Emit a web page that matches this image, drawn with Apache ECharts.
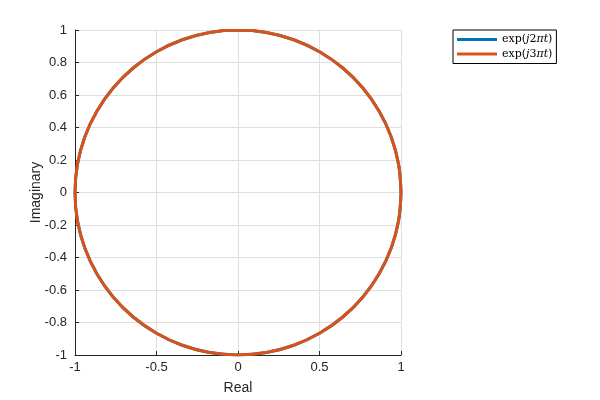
<!DOCTYPE html>
<html>
<head>
<meta charset="utf-8">
<script src="https://cdn.jsdelivr.net/npm/echarts@6/dist/echarts.min.js"></script>
<style>html,body{margin:0;padding:0;background:#fff;}#c{width:600px;height:400px;}</style>
</head>
<body>
<div id="c"></div>
<script>
// Points read along the circle (every 10 degrees)
var realVals = [1, 0.985, 0.940, 0.866, 0.766, 0.643, 0.5, 0.342, 0.174, 0, -0.174, -0.342, -0.5, -0.643, -0.766, -0.866, -0.940, -0.985, -1, -0.985, -0.940, -0.866, -0.766, -0.643, -0.5, -0.342, -0.174, 0, 0.174, 0.342, 0.5, 0.643, 0.766, 0.866, 0.940, 0.985, 1];
var imagVals = [0, 0.174, 0.342, 0.5, 0.643, 0.766, 0.866, 0.940, 0.985, 1, 0.985, 0.940, 0.866, 0.766, 0.643, 0.5, 0.342, 0.174, 0, -0.174, -0.342, -0.5, -0.643, -0.766, -0.866, -0.940, -0.985, -1, -0.985, -0.940, -0.866, -0.766, -0.643, -0.5, -0.342, -0.174, 0];
var seriesNames = ['exp(j2πt)', 'exp(j3πt)'];
var seriesColors = ['#0072BD', '#D95319'];
var xTicks = [-1, -0.5, 0, 0.5, 1];
var yTicks = [-1, -0.8, -0.6, -0.4, -0.2, 0, 0.2, 0.4, 0.6, 0.8, 1];

var pts = realVals.map(function (r, i) { return [r, imagVals[i]]; });
var labelFmt = function (v) { return String(Math.round(v * 10) / 10); };

var chart = echarts.init(document.getElementById('c'));
chart.setOption({
  animation: false,
  backgroundColor: '#fff',
  grid: { left: 75, right: 199, top: 30, bottom: 45 },
  legend: {
    orient: 'vertical',
    left: 453, top: 30,
    borderColor: '#000', borderWidth: 1, borderRadius: 0,
    padding: [4, 4, 4, 4],
    itemWidth: 40, itemHeight: 3, itemGap: 3.5,
    icon: 'rect',
    data: seriesNames,
    formatter: function (name) {
      var d = name.charAt(5);
      return '{n|exp(}{i|j}{n|' + d + '}{i|πt}{n|)}';
    },
    textStyle: {
      rich: {
        n: { fontFamily: 'DejaVu Serif', fontSize: 11, color: '#000' },
        i: { fontFamily: 'DejaVu Serif', fontStyle: 'italic', fontSize: 11, color: '#000' }
      }
    }
  },
  xAxis: {
    type: 'value', min: -1, max: 1, interval: 0.5,
    name: 'Real', nameLocation: 'middle', nameGap: 26,
    nameTextStyle: { fontFamily: 'Liberation Sans', fontSize: 14, color: '#262626' },
    axisLine: { onZero: false, lineStyle: { color: '#262626', width: 1 } },
    axisTick: { show: true, inside: true, length: 4, lineStyle: { color: '#262626' } },
    axisLabel: { fontFamily: 'Liberation Sans', fontSize: 13, color: '#262626', margin: 6, formatter: labelFmt, customValues: xTicks },
    splitLine: { show: true, lineStyle: { color: '#dfdfdf', width: 1 } }
  },
  yAxis: {
    type: 'value', min: -1, max: 1, interval: 0.2,
    name: 'Imaginary', nameLocation: 'middle', nameGap: 32, nameMoveOverlap: false,
    nameTextStyle: { fontFamily: 'Liberation Sans', fontSize: 14, color: '#262626' },
    axisLine: { show: true, onZero: false, lineStyle: { color: '#262626', width: 1 } },
    axisTick: { show: true, inside: true, length: 4, lineStyle: { color: '#262626' } },
    axisLabel: { fontFamily: 'Liberation Sans', fontSize: 13, color: '#262626', margin: 8, formatter: labelFmt },
    splitLine: { show: true, lineStyle: { color: '#dfdfdf', width: 1 } }
  },
  series: seriesNames.map(function (n, k) {
    return {
      name: n, type: 'line', data: pts, symbol: 'none', smooth: 0.4,
      color: seriesColors[k],
      lineStyle: { width: 3, color: seriesColors[k] },
      z: 2 + k
    };
  })
});
</script>
</body>
</html>
